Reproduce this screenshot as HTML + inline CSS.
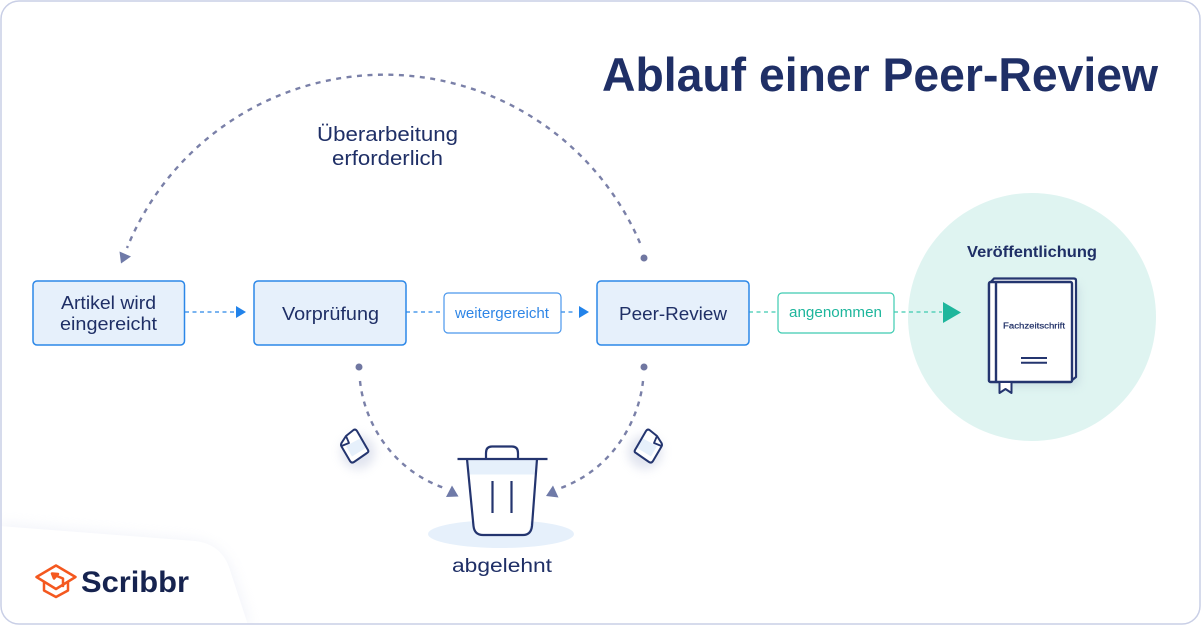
<!DOCTYPE html>
<html lang="de"><head><meta charset="utf-8"><title>Ablauf einer Peer-Review</title>
<style>html,body{margin:0;padding:0;background:#fff}svg{display:block}text{font-family:"Liberation Sans",sans-serif;fill:#1f2f66}</style></head>
<body>
<svg width="1201" height="625" viewBox="0 0 1201 625" xmlns="http://www.w3.org/2000/svg">
<defs>
<filter id="b" x="-50%" y="-50%" width="200%" height="200%"><feGaussianBlur stdDeviation="7"/></filter>
<filter id="b2" x="-100%" y="-100%" width="300%" height="300%"><feGaussianBlur stdDeviation="5"/></filter>
<clipPath id="card"><rect x="1" y="1" width="1199" height="623" rx="18"/></clipPath>
</defs>
<rect width="1201" height="625" fill="#fff"/>
<g clip-path="url(#card)">
<path d="M0 524 L195 541 Q222 545 232 572 L250 625 L0 625Z" fill="#dfe3f2" opacity=".45" filter="url(#b)"/>
<path d="M0 526 L195 541 Q222 544 230 570 L248 625 L0 625Z" fill="#fff"/>
</g>
<rect x="1" y="1" width="1199" height="623" rx="18" fill="none" stroke="#c9cfe6" stroke-width="1.500"/>

<text x="602" y="91" font-size="47" font-weight="700" textLength="556" lengthAdjust="spacingAndGlyphs">Ablauf einer Peer-Review</text>

<circle cx="1032" cy="317" r="124" fill="#dff4f1"/>

<!-- arcs -->
<path d="M640 243 A278 278 0 0 0 127 248" fill="none" stroke="#7a80a8" stroke-width="2.400" stroke-dasharray="5 5.500"/>
<polygon points="119.500,251.500 121,263.500 131,256.500" fill="#6f7aa8"/>
<circle cx="644" cy="258" r="3.500" fill="#7077a1"/>
<circle cx="359" cy="367" r="3.500" fill="#7077a1"/>
<circle cx="644" cy="367" r="3.500" fill="#7077a1"/>
<path d="M360 381 C364 420 390 470 447 489" fill="none" stroke="#7a80a8" stroke-width="2.400" stroke-dasharray="5 5.500"/>
<polygon points="452,485.500 446,497 458.500,496.500" fill="#6f7aa8"/>
<path d="M643 381 C639 420 613 470 558 489" fill="none" stroke="#7a80a8" stroke-width="2.400" stroke-dasharray="5 5.500"/>
<polygon points="553,485.500 546,496 558.500,497.500" fill="#6f7aa8"/>

<!-- connectors -->
<path d="M185 312 H236" stroke="#2b87e8" stroke-width="1.300" stroke-dasharray="4 3.500" fill="none"/>
<polygon points="236,306 246,312 236,318" fill="#2283ea"/>
<path d="M406 312 H444 M561 312 H574" stroke="#2b87e8" stroke-width="1.300" stroke-dasharray="4 3.500" fill="none"/>
<polygon points="579,306 589,312 579,318" fill="#2283ea"/>
<path d="M749 312 H778 M894 312 H942" stroke="#3dcbb1" stroke-width="1.300" stroke-dasharray="4 3.500" fill="none"/>
<polygon points="943,302 961,312.500 943,323" fill="#1eb69c"/>

<!-- boxes -->
<rect x="33" y="281" width="151.500" height="64" rx="4" fill="#e6f0fb" stroke="#2b87e8" stroke-width="1.500"/>
<rect x="254" y="281" width="152" height="64" rx="4" fill="#e6f0fb" stroke="#2b87e8" stroke-width="1.500"/>
<rect x="597" y="281" width="152" height="64" rx="4" fill="#e6f0fb" stroke="#2b87e8" stroke-width="1.500"/>
<rect x="444" y="293" width="117" height="40" rx="4" fill="#fff" stroke="#4a97ec" stroke-width="1.200"/>
<rect x="778" y="293" width="116" height="40" rx="4" fill="#fff" stroke="#3dcbb1" stroke-width="1.200"/>

<text x="61" y="309" font-size="18" textLength="95" lengthAdjust="spacingAndGlyphs">Artikel wird</text>
<text x="60" y="330" font-size="18" textLength="97" lengthAdjust="spacingAndGlyphs">eingereicht</text>
<text x="282" y="320" font-size="18.500" textLength="97" lengthAdjust="spacingAndGlyphs">Vorprüfung</text>
<text x="619" y="320" font-size="18.500" textLength="108" lengthAdjust="spacingAndGlyphs">Peer-Review</text>
<text x="455" y="318" font-size="14.500" textLength="94" lengthAdjust="spacingAndGlyphs" style="fill:#2f86e6">weitergereicht</text>
<text x="789" y="317" font-size="14.500" textLength="93" lengthAdjust="spacingAndGlyphs" style="fill:#1eb69c">angenommen</text>
<text x="317" y="141" font-size="20" textLength="141" lengthAdjust="spacingAndGlyphs">Überarbeitung</text>
<text x="332" y="165" font-size="20" textLength="111" lengthAdjust="spacingAndGlyphs">erforderlich</text>
<text x="967" y="257" font-size="16" font-weight="700" textLength="130" lengthAdjust="spacingAndGlyphs">Veröffentlichung</text>
<text x="452" y="572" font-size="19" textLength="100" lengthAdjust="spacingAndGlyphs">abgelehnt</text>

<!-- book -->
<rect x="994" y="285" width="84" height="100" fill="#9fb0c8" opacity=".4" filter="url(#b2)"/>
<path d="M989 284 L994 278.500 H1074 Q1076 278.500 1076 280.500 V377 L1071 381 H989Z" fill="#fff" stroke="#24356f" stroke-width="2.200" stroke-linejoin="round"/>
<rect x="989" y="282" width="83" height="100" rx="1.500" fill="#fff" stroke="#24356f" stroke-width="2.400"/>
<path d="M996 282 V382" stroke="#24356f" stroke-width="2.400"/>
<path d="M999.500 383 V393 L1005.500 389 L1011.500 393 V383" fill="#fff" stroke="#24356f" stroke-width="2" stroke-linejoin="round"/>
<text x="1003" y="328.500" font-size="8" font-weight="400" stroke="#1f2f66" stroke-width=".2" textLength="62" lengthAdjust="spacingAndGlyphs">Fachzeitschrift</text>
<path d="M1021 358 H1047 M1021 362.800 H1047" stroke="#24356f" stroke-width="2"/>

<!-- trash -->
<ellipse cx="501" cy="534" rx="73" ry="14" fill="#e6f0fb"/>
<path d="M467 459 L474 526 Q475 535 483 535 H521 Q529 535 530 526 L537 459Z" fill="#fff"/>
<path d="M467 459 H537 L535.300 474.500 H468.700Z" fill="#e6f0fb"/>
<path d="M467 459 L473.500 526 Q474.500 535 483 535 H523 Q531 535 532 526 L537 459" fill="none" stroke="#24356f" stroke-width="2.200"/>
<path d="M457.500 459 H547.500" stroke="#24356f" stroke-width="2.200"/>
<path d="M486 458 V453 Q486 446.500 492 446.500 H512 Q518 446.500 518 453 V458" fill="none" stroke="#24356f" stroke-width="2.200"/>
<path d="M492.500 481 V513 M511.500 481 V513" stroke="#24356f" stroke-width="2.200"/>

<!-- docs -->
<g id="d1">
<ellipse cx="358" cy="452" rx="17" ry="17" fill="#aab4d2" opacity=".35" filter="url(#b2)"/>
<path d="M346 436 L353.500 430 Q355.500 428.700 357 431 L368 450 Q369 452 367 453 L354 462 Q351.500 463.500 350 461 L341.500 446.500 Q340.500 445 341.500 443Z" fill="#fff"/>
<path d="M346 446 L361 438 L366.500 447.500 L352 456.500Z" fill="#e6f0fb"/>
<path d="M346 436 L353.500 430 Q355.500 428.700 357 431 L368 450 Q369 452 367 453 L354 462 Q351.500 463.500 350 461 L341.500 446.500 Q340.500 445 341.500 443Z" fill="none" stroke="#24356f" stroke-width="2" stroke-linejoin="round"/>
<path d="M346 436 L349 443 L341.500 446" fill="none" stroke="#24356f" stroke-width="1.800" stroke-linejoin="round"/>
</g>
<g transform="translate(1003 0) scale(-1 1)">
<ellipse cx="358" cy="452" rx="17" ry="17" fill="#aab4d2" opacity=".35" filter="url(#b2)"/>
<path d="M346 436 L353.500 430 Q355.500 428.700 357 431 L368 450 Q369 452 367 453 L354 462 Q351.500 463.500 350 461 L341.500 446.500 Q340.500 445 341.500 443Z" fill="#fff"/>
<path d="M346 446 L361 438 L366.500 447.500 L352 456.500Z" fill="#e6f0fb"/>
<path d="M346 436 L353.500 430 Q355.500 428.700 357 431 L368 450 Q369 452 367 453 L354 462 Q351.500 463.500 350 461 L341.500 446.500 Q340.500 445 341.500 443Z" fill="none" stroke="#24356f" stroke-width="2" stroke-linejoin="round"/>
<path d="M346 436 L349 443 L341.500 446" fill="none" stroke="#24356f" stroke-width="1.800" stroke-linejoin="round"/>
</g>

<!-- logo -->
<g fill="none" stroke="#f4581f" stroke-width="2.500" stroke-linejoin="round" stroke-linecap="round">
<path d="M36.500 577 L56 565.500 L75.500 577 L56 589 Z"/>
<path d="M44 582.500 V590.500 L56 597 L68 590.500 V582.500"/>
<path d="M53 574.500 L63 578.500 V586"/>
<path d="M52 573.500 L58 574 L54 578.500 Z" fill="#f4581f"/>
</g>
<text x="81" y="592" font-size="30" font-weight="700" textLength="108" lengthAdjust="spacingAndGlyphs" style="fill:#16234f">Scribbr</text>
</svg>
</body></html>
